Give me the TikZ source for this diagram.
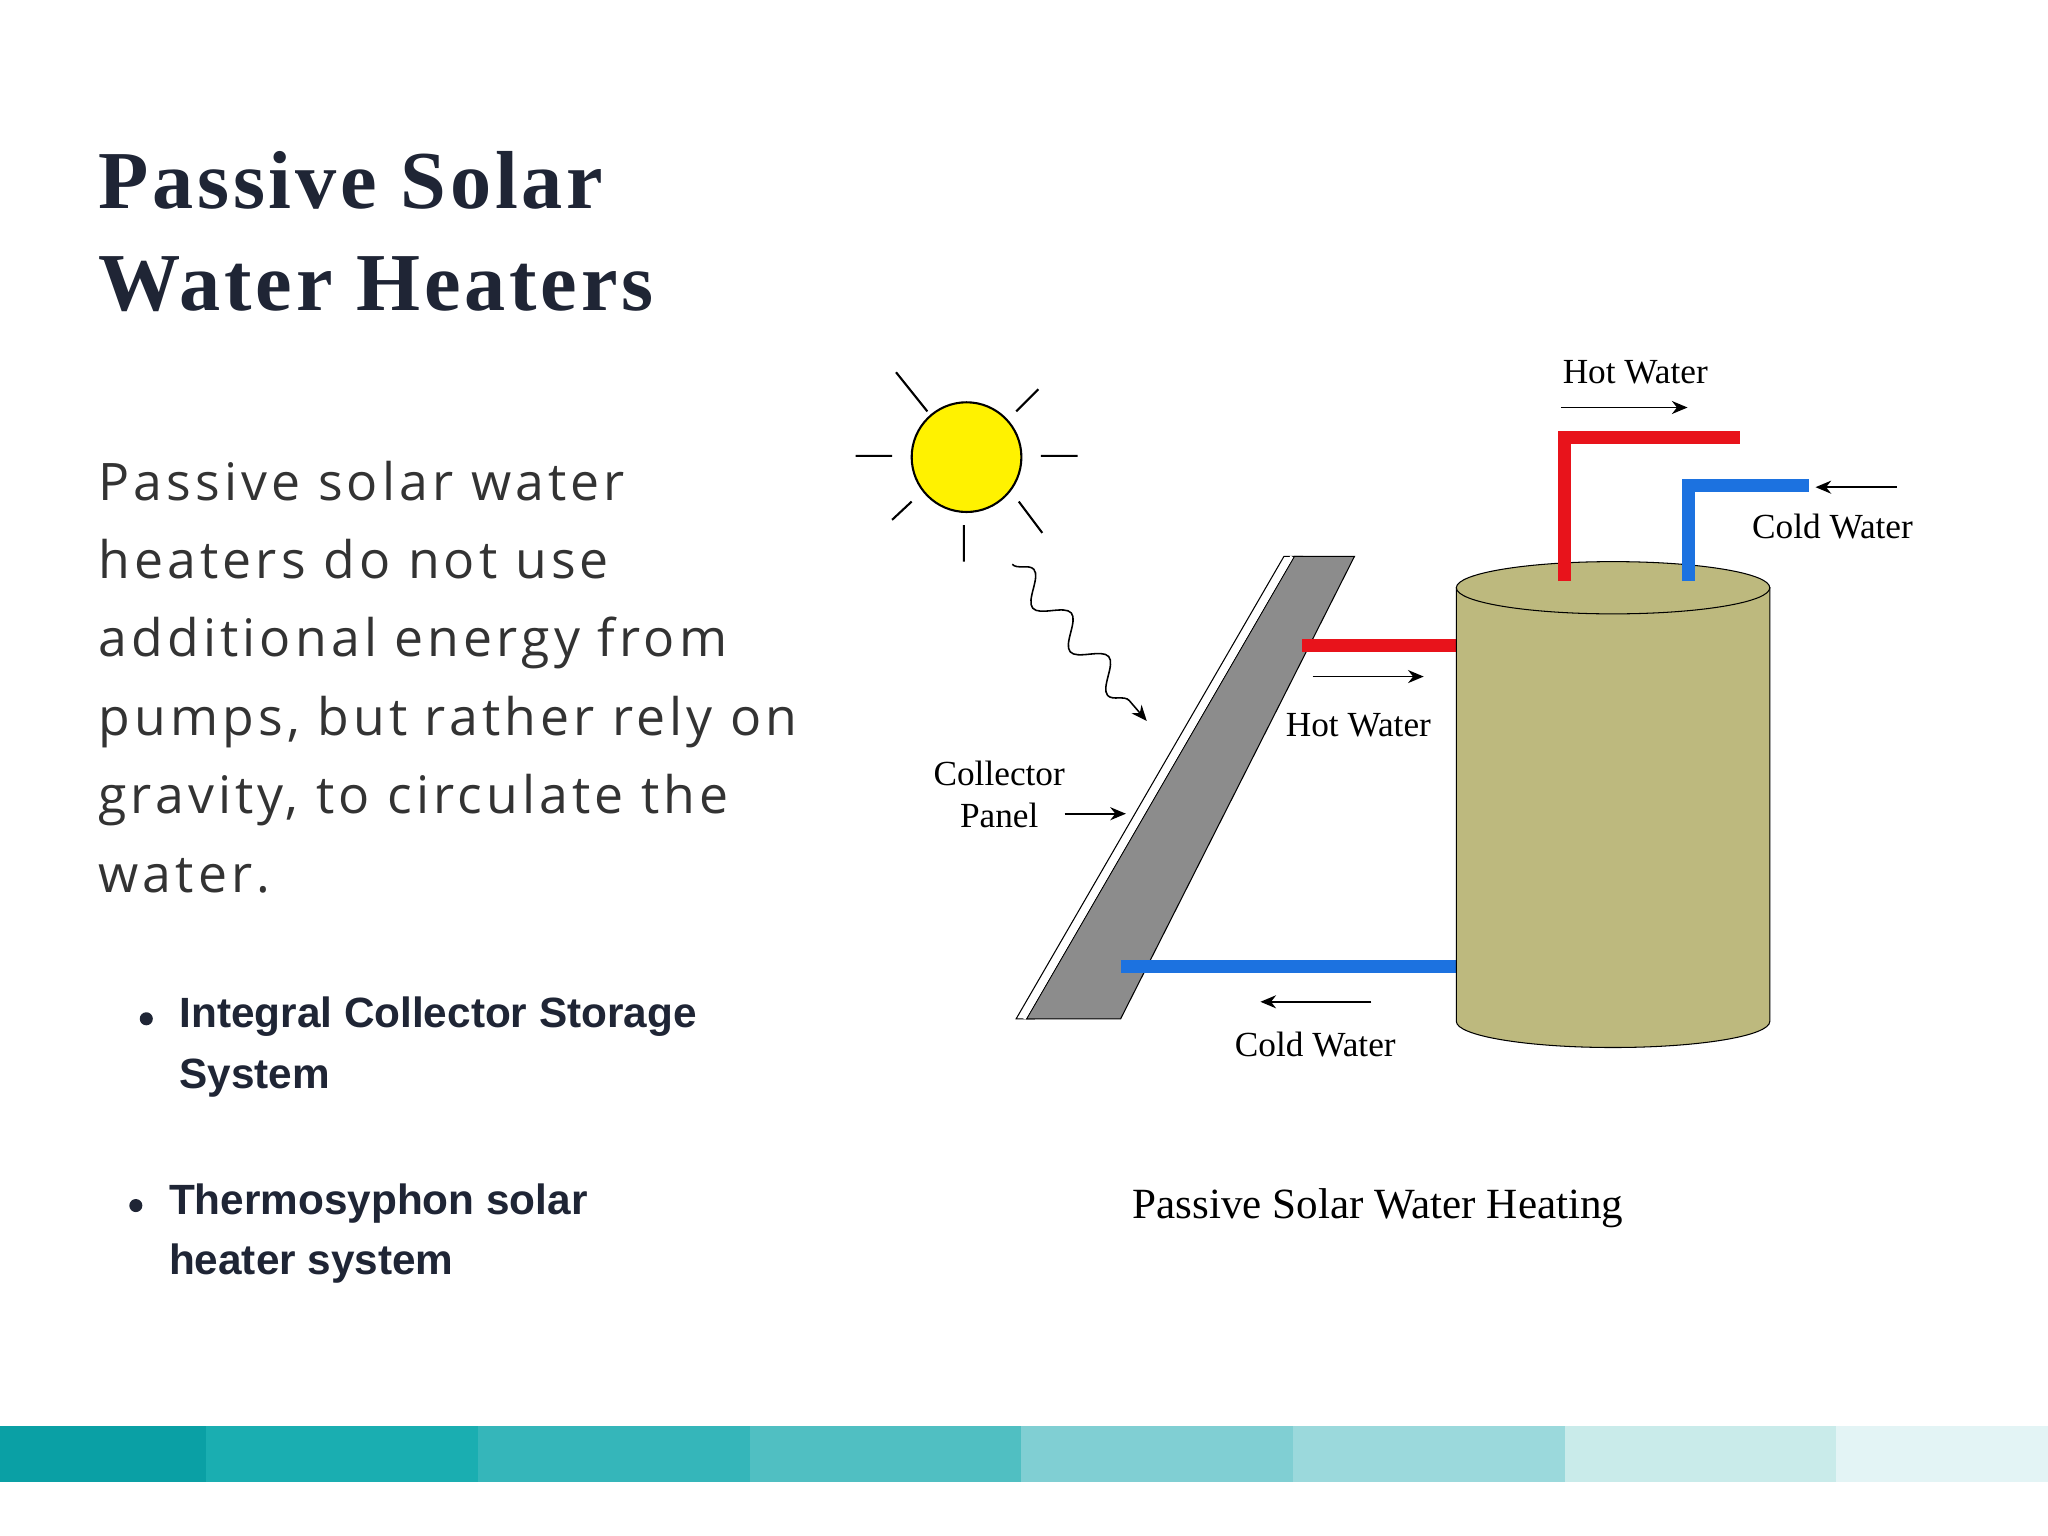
\documentclass[tikz,border=0pt]{standalone}
\usepackage{fontspec}
\setmainfont{Liberation Serif}
\newfontfamily\titlef[LetterSpace=4.5]{Liberation Serif}
\newfontfamily\bodyf[LetterSpace=8]{Open Sans}
\newfontfamily\bulf{Liberation Sans}
\usetikzlibrary{decorations.pathmorphing,arrows.meta}
\definecolor{navy}{HTML}{1F2535}
\definecolor{body}{HTML}{333333}
\definecolor{khaki}{HTML}{BDB97E}
\definecolor{hot}{HTML}{E8131B}
\definecolor{cold}{HTML}{1C72E0}
\begin{document}
\begin{tikzpicture}[x=0.5pt,y=-0.5pt,
  title/.style={anchor=base west,inner sep=0,font=\titlef\fontsize{31.5}{36}\bfseries\selectfont,text=navy},
  para/.style={anchor=base west,inner sep=0,font=\bodyf\fontsize{19.8}{24}\selectfont,text=body},
  bul/.style={anchor=base west,inner sep=0,font=\bulf\fontsize{16.2}{19}\bfseries\selectfont,text=navy},
  lbl/.style={inner sep=0,font=\fontsize{13.5}{16}\selectfont},
  arr/.style={-{Stealth[length=6pt,width=5pt]},semithick},
  pipe/.style={line width=5pt}]
\useasboundingbox (0,0) rectangle (1568,1176);
\fill[white] (0,0) rectangle (1568,1176);
% title
\node[title] (t1) at (75,160) {Passive Solar};
\node[title] (t2) at (75,238) {Water Heaters};
% paragraph
\node[para] (p1) at (75,383) {Passive solar water};
\node[para] (p2) at (75,443) {heaters do not use};
\node[para] (p3) at (75,503) {additional energy from};
\node[para] (p4) at (75,563) {pumps, but rather rely on};
\node[para] (p5) at (75,623) {gravity, to circulate the};
\node[para] (p6) at (75,683) {water.};
% bullets
\fill[navy] (112,780) circle (5);
\node[bul] (b1) at (137,787) {Integral Collector Storage};
\node[bul] (b1b) at (137,833) {System};
\fill[navy] (104,923) circle (5);
\node[bul] (b2) at (129,930) {Thermosyphon solar};
\node[bul] (b2b) at (129,976) {heater system};
% stripe
\foreach \a/\b/\c in {0/158/0AA0A5,158/366/1AAEB1,366/574/35B6BA,574/782/50BFC2,782/990/80CFD3,990/1198/9BD9DC,1198/1406/C9EBEA,1406/1568/E3F4F5}{
  \definecolor{tmp}{HTML}{\c}\fill[tmp] (\a,1092) rectangle (\b,1135);}
% sun
\node[circle,draw,thick,fill=yellow,minimum size=42pt,inner sep=0] (sun) at (740,350) {};
\draw[thick] (686,285)--(710,315) (795,298)--(778,315) (655,349)--(683,349) (797,349)--(825,349)
  (683,398)--(698,384) (780,384)--(798,408) (738,402)--(738,430);
\coordinate (w0) at (775,432); \coordinate (w1) at (878,552);
\draw[semithick,decorate,decoration={snake,amplitude=5pt,segment length=22pt,post length=8pt},arr] (w0)--(w1);
% collector
\fill[white,draw=black,thin] (778,780)--(983,426)--(997,426)--(792,780)--cycle;
\fill[gray!90,draw=black,thin] (786,780)--(991,426)--(1037,426)--(858,780)--cycle;
\draw[white,line width=1.2pt] (784,780)--(989,426);
% pipes
\draw[pipe,hot] (997,494)--(1115,494);
\draw[pipe,cold] (858,740)--(1115,740);
% tank
\fill[khaki,draw=black,thin] (1115,450)--(1115,782) arc[start angle=180,end angle=0,x radius=120,y radius=20]--(1355,450)--cycle;
\filldraw[fill=khaki,draw=black,thin] (1235,450) ellipse [x radius=120,y radius=20];
\draw[pipe,hot] (1198,445)--(1198,335)--(1332,335);
\draw[pipe,cold] (1293,445)--(1293,372)--(1385,372);
% labels
\node[lbl] (hw1) at (1252,285) {Hot Water};
\coordinate (a1) at (1195,312); \coordinate (a2) at (1292,312); \draw[arr] (a1)--(a2);
\node[lbl] (cw1) at (1403,403) {Cold Water};
\coordinate (a3) at (1452,373); \coordinate (a4) at (1390,373); \draw[arr] (a3)--(a4);
\node[lbl] (hw2) at (1040,555) {Hot Water};
\coordinate (a5) at (1005,518); \coordinate (a6) at (1090,518); \draw[arr] (a5)--(a6);
\node[lbl] (cw2) at (1007,800) {Cold Water};
\coordinate (a7) at (1050,767); \coordinate (a8) at (965,767); \draw[arr] (a7)--(a8);
\node[lbl,align=center] (cp) at (765,608) {Collector\\Panel};
\coordinate (a9) at (815,623); \coordinate (a10) at (862,623); \draw[arr] (a9)--(a10);
\node[inner sep=0,font=\fontsize{16.5}{20}\selectfont] (cap) at (1055,925) {Passive Solar Water Heating};
\end{tikzpicture}
\end{document}
